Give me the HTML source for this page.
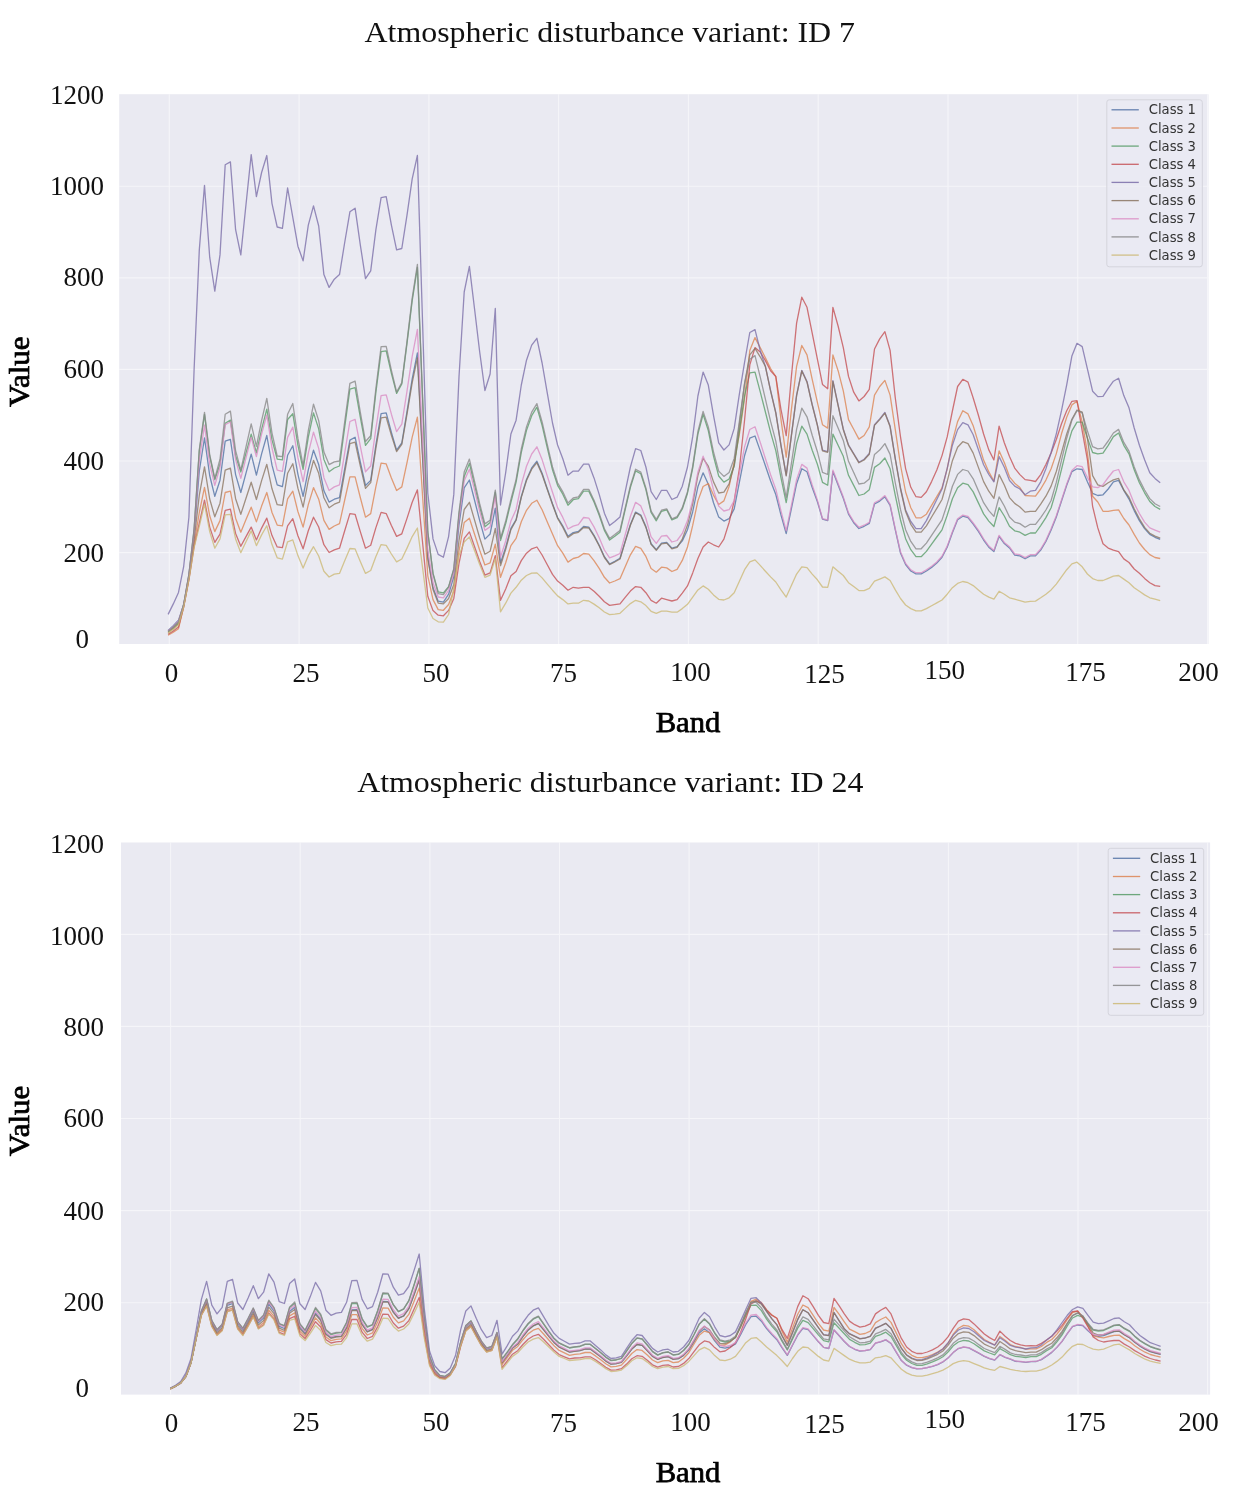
<!DOCTYPE html>
<html><head><meta charset="utf-8"><title>Atmospheric disturbance variants</title>
<style>
html,body{margin:0;padding:0;background:#fff;}
svg{display:block;}
.ti{font-family:"Liberation Serif",serif;font-size:30px;fill:#111;}
.tk{font-family:"Liberation Serif",serif;font-size:27px;fill:#111;}
.ax{font-family:"Liberation Serif",serif;font-size:30px;font-weight:normal;fill:#000;stroke:#000;stroke-width:0.75px;}
.lg{font-family:"DejaVu Sans","Liberation Sans",sans-serif;font-size:13.2px;fill:#333;}
</style></head><body>
<svg width="1249" height="1500" viewBox="0 0 1249 1500">
<rect width="1249" height="1500" fill="#fff"/>
<rect x="119.2" y="94.2" width="1089.3" height="549.8" fill="#eaeaf2"/>
<path d="M169.3 94.2V644.0M299.1 94.2V644.0M428.9 94.2V644.0M558.6 94.2V644.0M688.4 94.2V644.0M818.2 94.2V644.0M948.0 94.2V644.0M1077.7 94.2V644.0M1207.5 94.2V644.0M119.2 552.6H1208.5M119.2 461.0H1208.5M119.2 369.4H1208.5M119.2 277.8H1208.5M119.2 186.2H1208.5" stroke="#fff" stroke-width="1.15" stroke-opacity="0.5" fill="none"/>
<polyline points="168.1,630.4 173.3,625.7 178.5,620.1 183.7,605.0 188.9,576.0 194.1,534.3 199.3,471.0 204.5,438.0 209.7,475.5 214.8,496.3 220.0,480.2 225.2,441.2 230.4,439.3 235.6,474.6 240.8,492.5 246.0,473.2 251.2,454.1 256.4,475.2 261.6,453.9 266.8,435.5 272.0,465.2 277.2,484.8 282.4,486.7 287.6,455.3 292.8,445.7 297.9,474.1 303.1,496.3 308.3,469.8 313.5,450.2 318.7,464.5 323.9,490.8 329.1,502.1 334.3,499.2 339.5,497.7 344.7,468.6 349.9,440.1 355.1,437.2 360.3,462.0 365.5,485.5 370.7,480.4 375.9,444.8 381.1,413.6 386.2,412.9 391.4,432.4 396.6,450.2 401.8,443.0 407.0,411.6 412.2,378.8 417.4,353.0 422.6,454.6 427.8,556.9 433.0,587.8 438.2,601.2 443.4,602.1 448.6,594.2 453.8,576.5 459.0,524.8 464.2,487.9 469.4,480.0 474.5,500.0 479.7,520.6 484.9,539.1 490.1,534.0 495.3,508.1 500.5,562.9 505.7,547.2 510.9,528.3 516.1,519.6 521.3,496.5 526.5,479.4 531.7,467.9 536.9,461.2 542.1,473.3 547.3,488.7 552.5,503.8 557.6,517.5 562.8,526.0 568.0,536.2 573.2,532.6 578.4,531.4 583.6,526.5 588.8,527.1 594.0,535.3 599.2,545.3 604.4,556.7 609.6,564.0 614.8,561.3 620.0,558.2 625.2,541.2 630.4,524.5 635.6,512.1 640.8,515.0 645.9,526.6 651.1,543.7 656.3,549.6 661.5,543.1 666.7,542.4 671.9,548.2 677.1,546.7 682.3,540.9 687.5,529.8 692.7,511.7 697.9,486.8 703.1,472.8 708.3,484.2 713.5,502.7 718.7,517.1 723.9,521.1 729.1,518.7 734.2,508.9 739.4,482.2 744.6,455.5 749.8,438.2 755.0,436.0 760.2,450.6 765.4,465.8 770.6,481.0 775.8,494.5 781.0,515.0 786.2,533.7 791.4,508.7 796.6,483.7 801.8,468.7 807.0,471.7 812.2,487.5 817.4,501.7 822.5,519.1 827.7,520.6 832.9,471.6 838.1,484.9 843.3,498.2 848.5,514.1 853.7,522.7 858.9,528.5 864.1,526.3 869.3,523.4 874.5,504.0 879.7,501.1 884.9,496.8 890.1,505.4 895.3,529.9 900.5,553.0 905.6,564.5 910.8,571.0 916.0,573.9 921.2,573.9 926.4,571.0 931.6,567.4 936.8,563.1 942.0,557.3 947.2,547.2 952.4,532.8 957.6,519.8 962.8,516.2 968.0,517.7 973.2,524.2 978.4,531.4 983.6,540.0 988.8,547.2 993.9,551.5 999.1,536.4 1004.3,543.6 1009.5,547.9 1014.7,555.1 1019.9,555.9 1025.1,558.8 1030.3,555.9 1035.5,555.9 1040.7,550.1 1045.9,541.5 1051.1,529.9 1056.3,517.0 1061.5,501.1 1066.7,485.3 1071.9,471.6 1077.0,468.8 1082.2,469.5 1087.4,481.8 1092.6,493.3 1097.8,495.5 1103.0,494.8 1108.2,489.0 1113.4,481.8 1118.6,480.4 1123.8,490.4 1129.0,499.1 1134.2,510.6 1139.4,520.7 1144.6,528.6 1149.8,534.4 1155.0,537.3 1160.2,539.4" fill="none" stroke="#4F6FA3" stroke-width="1.3" stroke-opacity="0.78" stroke-linejoin="round"/>
<polyline points="168.1,635.3 173.3,632.3 178.5,628.7 183.7,606.5 188.9,578.9 194.1,544.1 199.3,512.5 204.5,487.4 209.7,515.8 214.8,531.6 220.0,520.6 225.2,492.5 230.4,491.2 235.6,518.2 240.8,532.2 246.0,519.6 251.2,507.2 256.4,521.9 261.6,506.1 266.8,492.5 272.0,512.5 277.2,525.1 282.4,525.8 287.6,498.9 292.8,491.2 297.9,511.5 303.1,527.1 308.3,504.6 313.5,487.6 318.7,499.2 323.9,520.4 329.1,529.4 334.3,526.0 339.5,523.7 344.7,500.0 349.9,476.8 355.1,476.8 360.3,497.5 365.5,517.2 370.7,513.6 375.9,486.6 381.1,463.1 386.2,463.9 391.4,477.9 396.6,490.5 401.8,486.9 407.0,462.6 412.2,437.1 417.4,417.2 422.6,496.2 427.8,575.8 433.0,599.6 438.2,609.6 443.4,610.3 448.6,604.5 453.8,591.1 459.0,551.0 464.2,522.5 469.4,518.2 474.5,534.0 479.7,550.3 484.9,565.0 490.1,562.9 495.3,544.1 500.5,577.3 505.7,562.8 510.9,545.6 516.1,538.4 521.3,521.8 526.5,510.3 531.7,503.3 536.9,500.2 542.1,509.8 547.3,522.0 552.5,534.0 557.6,545.7 562.8,553.2 568.0,562.1 573.2,558.5 578.4,557.1 583.6,553.5 588.8,554.2 594.0,560.6 599.2,568.4 604.4,577.3 609.6,583.0 614.8,581.0 620.0,578.7 625.2,566.7 630.4,554.8 635.6,546.3 640.8,548.4 645.9,556.4 651.1,568.5 656.3,572.2 661.5,567.2 666.7,567.9 671.9,571.5 677.1,569.3 682.3,560.4 687.5,547.0 692.7,525.4 697.9,500.9 703.1,486.5 708.3,483.6 713.5,495.1 718.7,504.5 723.9,500.9 729.1,486.5 734.2,462.0 739.4,434.1 744.6,398.1 749.8,350.5 755.0,337.6 760.2,347.6 765.4,357.7 770.6,368.5 775.8,376.5 781.0,419.7 786.2,457.2 791.4,409.6 796.6,366.4 801.8,345.5 807.0,354.9 812.2,379.4 817.4,402.4 822.5,424.7 827.7,428.1 832.9,354.9 838.1,370.7 843.3,390.9 848.5,419.6 853.7,429.3 858.9,439.1 864.1,435.5 869.3,426.8 874.5,395.1 879.7,386.5 884.9,380.4 890.1,395.1 895.3,429.7 900.5,465.0 905.6,492.0 910.8,507.7 916.0,517.8 921.2,517.8 926.4,514.2 931.6,505.4 936.8,496.7 942.0,487.9 947.2,468.8 952.4,441.3 957.6,421.6 962.8,410.7 968.0,413.9 973.2,425.7 978.4,442.9 983.6,460.1 988.8,471.9 993.9,481.1 999.1,450.8 1004.3,462.5 1009.5,476.8 1014.7,483.2 1019.9,487.6 1025.1,495.5 1030.3,495.9 1035.5,496.2 1040.7,489.0 1045.9,480.1 1051.1,468.8 1056.3,453.6 1061.5,433.8 1066.7,417.2 1071.9,404.9 1077.0,401.3 1082.2,422.2 1087.4,452.5 1092.6,496.2 1097.8,502.0 1103.0,511.3 1108.2,511.3 1113.4,510.3 1118.6,509.9 1123.8,518.5 1129.0,525.0 1134.2,534.4 1139.4,543.0 1144.6,549.5 1149.8,554.6 1155.0,557.5 1160.2,558.5" fill="none" stroke="#DD8452" stroke-width="1.3" stroke-opacity="0.78" stroke-linejoin="round"/>
<polyline points="168.1,631.8 173.3,627.7 178.5,622.7 183.7,604.3 188.9,574.5 194.1,529.5 199.3,451.1 204.5,414.3 209.7,456.2 214.8,479.7 220.0,464.0 225.2,423.3 230.4,420.1 235.6,455.7 240.8,472.0 246.0,453.0 251.2,434.2 256.4,452.8 261.6,429.3 266.8,409.2 272.0,439.9 277.2,459.2 282.4,459.8 287.6,419.5 292.8,413.7 297.9,445.1 303.1,469.4 308.3,437.1 313.5,412.9 318.7,428.9 323.9,459.4 329.1,471.8 334.3,468.0 339.5,466.0 344.7,427.2 349.9,389.1 355.1,387.6 360.3,417.2 365.5,445.3 370.7,438.6 375.9,392.3 381.1,351.6 386.2,350.9 391.4,373.3 396.6,393.4 401.8,384.0 407.0,343.4 412.2,300.7 417.4,267.3 422.6,399.2 427.8,532.1 433.0,573.2 438.2,591.9 443.4,592.9 448.6,586.6 453.8,569.5 459.0,514.7 464.2,476.4 469.4,463.4 474.5,484.9 479.7,507.1 484.9,526.8 490.1,522.5 495.3,492.2 500.5,540.5 505.7,523.5 510.9,502.3 516.1,482.1 521.3,452.3 526.5,430.4 531.7,415.7 536.9,407.2 542.1,425.4 547.3,447.8 552.5,469.9 557.6,485.3 562.8,494.2 568.0,505.2 573.2,499.7 578.4,498.7 583.6,491.1 588.8,491.1 594.0,501.9 599.2,515.2 604.4,530.4 609.6,540.1 614.8,536.3 620.0,532.2 625.2,509.6 630.4,487.4 635.6,470.9 640.8,473.8 645.9,489.6 651.1,512.5 656.3,520.8 661.5,511.3 666.7,509.8 671.9,519.9 677.1,517.7 682.3,509.0 687.5,493.2 692.7,468.1 697.9,434.1 703.1,414.4 708.3,430.5 713.5,456.0 718.7,476.0 723.9,482.1 729.1,479.0 734.2,466.1 739.4,430.9 744.6,395.7 749.8,372.9 755.0,372.1 760.2,391.6 765.4,412.0 770.6,432.4 775.8,450.6 781.0,477.8 786.2,502.7 791.4,473.0 796.6,443.4 801.8,426.2 807.0,434.1 812.2,450.2 817.4,464.3 822.5,482.4 827.7,485.3 832.9,434.1 838.1,445.2 843.3,456.3 848.5,475.3 853.7,485.4 858.9,495.5 864.1,494.0 869.3,489.7 874.5,467.4 879.7,463.8 884.9,458.0 890.1,468.8 895.3,495.4 900.5,520.0 905.6,538.7 910.8,549.7 916.0,556.7 921.2,556.7 926.4,551.4 931.6,544.2 936.8,537.0 942.0,529.9 947.2,515.2 952.4,498.7 957.6,487.8 962.8,483.2 968.0,484.7 973.2,491.9 978.4,502.9 983.6,513.9 988.8,521.1 993.9,526.5 999.1,507.7 1004.3,516.0 1009.5,526.2 1014.7,530.8 1019.9,532.2 1025.1,535.4 1030.3,533.0 1035.5,533.0 1040.7,525.6 1045.9,517.6 1051.1,507.7 1056.3,490.4 1061.5,469.3 1066.7,448.2 1071.9,430.9 1077.0,422.2 1082.2,422.2 1087.4,438.1 1092.6,452.5 1097.8,453.9 1103.0,453.2 1108.2,445.3 1113.4,436.6 1118.6,433.0 1123.8,445.3 1129.0,453.9 1134.2,469.8 1139.4,482.8 1144.6,492.8 1149.8,501.5 1155.0,506.5 1160.2,509.4" fill="none" stroke="#579B66" stroke-width="1.3" stroke-opacity="0.78" stroke-linejoin="round"/>
<polyline points="168.1,634.3 173.3,631.0 178.5,627.0 183.7,606.9 188.9,579.7 194.1,546.7 199.3,523.2 204.5,500.2 209.7,527.1 214.8,542.4 220.0,534.1 225.2,510.4 230.4,509.1 235.6,533.4 240.8,546.3 246.0,536.6 251.2,527.1 256.4,539.9 261.6,528.1 266.8,518.1 272.0,535.6 277.2,546.9 282.4,547.6 287.6,525.8 292.8,518.7 297.9,535.7 303.1,548.8 308.3,530.8 313.5,517.2 318.7,527.0 323.9,544.7 329.1,552.5 334.3,549.9 339.5,548.2 344.7,530.7 349.9,513.6 355.1,514.3 360.3,531.6 365.5,548.2 370.7,545.3 375.9,527.6 381.1,512.4 386.2,513.6 391.4,525.5 396.6,536.4 401.8,533.8 407.0,518.4 412.2,502.2 417.4,489.8 422.6,542.8 427.8,596.3 433.0,610.6 438.2,615.2 443.4,615.8 448.6,610.4 453.8,598.4 459.0,563.3 464.2,538.4 469.4,531.9 474.5,546.5 479.7,561.5 484.9,575.1 490.1,572.9 495.3,555.6 500.5,600.3 505.7,589.0 510.9,575.8 516.1,571.5 521.3,560.6 526.5,553.2 531.7,548.8 536.9,547.0 542.1,555.0 547.3,564.8 552.5,574.4 557.6,581.1 562.8,585.2 568.0,590.2 573.2,587.3 578.4,588.1 583.6,587.3 588.8,587.3 594.0,591.3 599.2,596.2 604.4,601.8 609.6,605.4 614.8,604.7 620.0,603.9 625.2,597.4 630.4,591.1 635.6,586.6 640.8,587.3 645.9,592.7 651.1,600.4 656.3,603.2 661.5,598.2 666.7,599.6 671.9,601.0 677.1,599.6 682.3,593.1 687.5,585.9 692.7,572.9 697.9,558.5 703.1,547.0 708.3,542.0 713.5,544.8 718.7,547.0 723.9,539.1 729.1,522.5 734.2,500.9 739.4,468.7 744.6,419.7 749.8,364.9 755.0,347.6 760.2,352.0 765.4,360.6 770.6,370.7 775.8,376.5 781.0,409.6 786.2,435.6 791.4,376.5 796.6,323.1 801.8,297.2 807.0,307.3 812.2,333.2 817.4,359.2 822.5,384.4 827.7,388.7 832.9,307.3 838.1,326.0 843.3,347.6 848.5,376.4 853.7,392.2 858.9,400.9 864.1,396.5 869.3,389.3 874.5,349.0 879.7,338.9 884.9,331.7 890.1,350.4 895.3,398.0 900.5,436.9 905.6,468.6 910.8,487.3 916.0,496.7 921.2,497.4 926.4,491.7 931.6,481.6 936.8,470.0 942.0,455.6 947.2,436.9 952.4,411.0 957.6,386.5 962.8,379.3 968.0,382.1 973.2,398.0 978.4,415.3 983.6,434.0 988.8,449.9 993.9,460.0 999.1,426.1 1004.3,442.7 1009.5,456.6 1014.7,468.1 1019.9,474.6 1025.1,479.6 1030.3,480.4 1035.5,481.5 1040.7,474.6 1045.9,464.5 1051.1,453.0 1056.3,439.5 1061.5,423.7 1066.7,410.7 1071.9,401.3 1077.0,400.6 1082.2,430.9 1087.4,459.7 1092.6,506.3 1097.8,527.9 1103.0,543.8 1108.2,548.1 1113.4,550.2 1118.6,551.7 1123.8,558.9 1129.0,562.5 1134.2,569.0 1139.4,573.3 1144.6,578.4 1149.8,582.7 1155.0,585.6 1160.2,586.3" fill="none" stroke="#C44E52" stroke-width="1.3" stroke-opacity="0.78" stroke-linejoin="round"/>
<polyline points="168.1,614.4 173.3,603.9 178.5,592.4 183.7,566.3 188.9,517.3 194.1,369.4 199.3,249.9 204.5,185.3 209.7,257.2 214.8,291.1 220.0,254.9 225.2,164.7 230.4,161.9 235.6,229.7 240.8,254.9 246.0,204.5 251.2,154.6 256.4,196.7 261.6,172.5 266.8,155.5 272.0,203.6 277.2,227.0 282.4,228.3 287.6,188.0 292.8,217.3 297.9,246.2 303.1,260.9 308.3,225.1 313.5,205.9 318.7,226.0 323.9,274.6 329.1,287.4 334.3,279.2 339.5,274.6 344.7,242.5 349.9,211.8 355.1,208.2 360.3,244.8 365.5,278.7 370.7,270.9 375.9,229.7 381.1,197.7 386.2,196.7 391.4,225.1 396.6,249.9 401.8,248.5 407.0,215.1 412.2,178.9 417.4,155.5 422.6,323.6 427.8,493.1 433.0,538.9 438.2,554.4 443.4,557.2 448.6,536.6 453.8,494.4 459.0,376.7 464.2,292.0 469.4,266.4 474.5,308.5 479.7,352.0 484.9,390.5 490.1,374.0 495.3,308.5 500.5,505.0 505.7,472.5 510.9,434.0 516.1,420.2 521.3,385.0 526.5,360.2 531.7,345.1 536.9,338.3 542.1,363.0 547.3,393.2 552.5,423.0 557.6,445.0 562.8,458.7 568.0,475.2 573.2,471.1 578.4,471.1 583.6,464.2 588.8,464.2 594.0,477.9 599.2,494.4 604.4,513.2 609.6,525.6 614.8,521.5 620.0,516.9 625.2,491.7 630.4,467.0 635.6,448.6 640.8,450.5 645.9,467.0 651.1,491.7 656.3,499.5 661.5,490.3 666.7,490.3 671.9,499.5 677.1,497.2 682.3,486.2 687.5,467.0 692.7,436.7 697.9,396.0 703.1,372.1 708.3,385.1 713.5,415.4 718.7,442.8 723.9,450.0 729.1,444.9 734.2,428.4 739.4,393.8 744.6,362.1 749.8,332.5 755.0,329.6 760.2,350.5 765.4,366.6 770.6,390.4 775.8,412.4 781.0,445.2 786.2,475.2 791.4,435.1 796.6,395.1 801.8,370.3 807.0,381.5 812.2,404.4 817.4,424.8 822.5,450.1 827.7,451.6 832.9,380.7 838.1,404.9 843.3,429.0 848.5,444.9 853.7,453.5 858.9,462.2 864.1,459.3 869.3,453.5 874.5,424.7 879.7,418.9 884.9,412.4 890.1,426.1 895.3,458.5 900.5,488.0 905.6,509.9 910.8,521.5 916.0,528.6 921.2,528.6 926.4,520.6 931.6,510.1 936.8,499.5 942.0,489.0 947.2,468.3 952.4,445.2 957.6,429.6 962.8,422.6 968.0,424.9 973.2,434.7 978.4,449.7 983.6,464.7 988.8,474.5 993.9,481.8 999.1,456.6 1004.3,467.3 1009.5,480.5 1014.7,486.1 1019.9,489.0 1025.1,494.8 1030.3,491.2 1035.5,490.4 1040.7,481.8 1045.9,468.8 1051.1,452.5 1056.3,433.8 1061.5,410.7 1066.7,384.8 1071.9,355.9 1077.0,343.3 1082.2,346.6 1087.4,368.9 1092.6,391.2 1097.8,396.6 1103.0,396.3 1108.2,388.4 1113.4,381.2 1118.6,378.3 1123.8,395.6 1129.0,407.8 1134.2,428.0 1139.4,445.3 1144.6,459.7 1149.8,472.7 1155.0,478.4 1160.2,482.8" fill="none" stroke="#7A6DA8" stroke-width="1.3" stroke-opacity="0.78" stroke-linejoin="round"/>
<polyline points="168.1,632.5 173.3,628.5 178.5,623.8 183.7,605.9 188.9,577.7 194.1,540.0 199.3,495.2 204.5,466.9 209.7,499.0 214.8,516.8 220.0,503.2 225.2,470.1 230.4,468.1 235.6,498.7 240.8,514.3 246.0,498.2 251.2,482.2 256.4,499.5 261.6,480.6 266.8,464.3 272.0,488.8 277.2,504.7 282.4,505.3 287.6,473.3 292.8,463.7 297.9,488.2 303.1,507.2 308.3,480.5 313.5,460.3 318.7,473.3 323.9,497.8 329.1,507.8 334.3,504.2 339.5,502.1 344.7,472.6 349.9,443.7 355.1,442.2 360.3,465.9 365.5,488.4 370.7,482.6 375.9,448.1 381.1,417.9 386.2,417.2 391.4,435.3 396.6,451.6 401.8,444.4 407.0,414.2 412.2,382.6 417.4,357.9 422.6,457.9 427.8,558.7 433.0,589.4 438.2,603.1 443.4,603.9 448.6,598.5 453.8,584.5 459.0,540.5 464.2,509.5 469.4,502.3 474.5,519.9 479.7,538.0 484.9,554.2 490.1,551.3 495.3,528.3 500.5,565.7 505.7,549.4 510.9,529.7 516.1,520.3 521.3,497.4 526.5,480.6 531.7,469.2 536.9,462.7 542.1,474.5 547.3,489.6 552.5,504.5 557.6,518.4 562.8,527.2 568.0,537.6 573.2,533.7 578.4,532.3 583.6,527.5 588.8,528.0 594.0,536.1 599.2,546.0 604.4,557.5 609.6,564.7 614.8,562.0 620.0,559.0 625.2,541.9 630.4,525.2 635.6,512.8 640.8,515.7 645.9,527.4 651.1,544.4 656.3,550.3 661.5,543.8 666.7,543.1 671.9,548.9 677.1,547.4 682.3,539.1 687.5,525.1 692.7,503.8 697.9,475.4 703.1,458.4 708.3,466.1 713.5,481.9 718.7,493.0 723.9,492.2 729.1,483.8 734.2,465.4 739.4,424.4 744.6,383.3 749.8,354.9 755.0,348.4 760.2,356.8 765.4,366.4 770.6,391.1 775.8,413.1 781.0,445.9 786.2,475.9 791.4,435.8 796.6,395.7 801.8,371.0 807.0,382.2 812.2,405.1 817.4,425.5 822.5,450.8 827.7,452.3 832.9,381.4 838.1,405.6 843.3,429.7 848.5,445.5 853.7,454.2 858.9,462.8 864.1,460.0 869.3,454.2 874.5,425.4 879.7,419.6 884.9,413.1 890.1,426.8 895.3,459.1 900.5,489.0 905.6,511.6 910.8,524.3 916.0,532.2 921.2,532.2 926.4,525.8 931.6,517.0 936.8,508.3 942.0,499.5 947.2,481.3 952.4,460.7 957.6,447.2 962.8,441.7 968.0,443.6 973.2,453.1 978.4,467.4 983.6,481.6 988.8,491.2 993.9,498.4 999.1,474.6 1004.3,485.0 1009.5,497.6 1014.7,503.4 1019.9,507.0 1025.1,512.1 1030.3,511.3 1035.5,511.3 1040.7,504.2 1045.9,496.2 1051.1,486.1 1056.3,471.5 1061.5,452.7 1066.7,434.0 1071.9,419.3 1077.0,410.0 1082.2,412.1 1087.4,438.1 1092.6,475.6 1097.8,484.9 1103.0,486.4 1108.2,482.8 1113.4,479.9 1118.6,478.4 1123.8,490.0 1129.0,497.2 1134.2,508.7 1139.4,518.8 1144.6,527.4 1149.8,533.2 1155.0,536.1 1160.2,538.2" fill="none" stroke="#8A7460" stroke-width="1.3" stroke-opacity="0.78" stroke-linejoin="round"/>
<polyline points="168.1,630.8 173.3,626.4 178.5,621.0 183.7,604.7 188.9,575.2 194.1,531.7 199.3,460.3 204.5,425.2 209.7,464.2 214.8,485.4 220.0,467.3 225.2,424.6 230.4,422.0 235.6,459.7 240.8,478.4 246.0,457.8 251.2,437.4 256.4,456.6 261.6,434.2 266.8,415.0 272.0,448.0 277.2,470.1 282.4,471.3 287.6,437.4 292.8,427.1 297.9,457.7 303.1,481.6 308.3,453.1 313.5,432.2 318.7,448.4 323.9,477.7 329.1,490.5 334.3,486.9 339.5,484.8 344.7,452.8 349.9,421.5 355.1,419.3 360.3,446.2 365.5,471.8 370.7,466.0 375.9,428.4 381.1,395.6 386.2,394.8 391.4,414.2 396.6,431.6 401.8,424.2 407.0,391.1 412.2,356.3 417.4,329.3 422.6,439.0 427.8,549.6 433.0,582.8 438.2,597.0 443.4,597.9 448.6,590.5 453.8,572.7 459.0,518.8 464.2,480.7 469.4,469.2 474.5,489.9 479.7,511.3 484.9,530.4 490.1,526.8 495.3,495.8 500.5,557.1 505.7,540.9 510.9,521.1 516.1,509.5 521.3,484.6 526.5,466.3 531.7,454.0 536.9,446.8 542.1,459.6 547.3,476.1 552.5,492.2 557.6,507.6 562.8,517.4 568.0,529.0 573.2,526.1 578.4,524.7 583.6,517.5 588.8,518.2 594.0,526.9 599.2,537.7 604.4,550.0 609.6,557.8 614.8,555.8 620.0,553.5 625.2,534.7 630.4,516.2 635.6,502.3 640.8,505.9 645.9,518.5 651.1,536.9 656.3,543.4 661.5,536.2 666.7,535.5 671.9,542.0 677.1,540.5 682.3,533.4 687.5,520.6 692.7,500.1 697.9,472.2 703.1,456.2 708.3,469.2 713.5,489.9 718.7,506.1 723.9,511.0 729.1,509.7 734.2,500.6 739.4,473.6 744.6,446.6 749.8,429.5 755.0,426.7 760.2,442.2 765.4,458.5 770.6,474.7 775.8,489.2 781.0,510.9 786.2,530.8 791.4,505.3 796.6,479.7 801.8,464.4 807.0,468.1 812.2,484.9 817.4,500.1 822.5,518.6 827.7,520.0 832.9,470.1 838.1,483.6 843.3,497.1 848.5,512.9 853.7,521.6 858.9,527.3 864.1,525.2 869.3,522.3 874.5,502.8 879.7,500.0 884.9,495.6 890.1,504.3 895.3,528.8 900.5,551.8 905.6,563.4 910.8,569.8 916.0,572.7 921.2,572.7 926.4,569.8 931.6,566.2 936.8,561.9 942.0,556.2 947.2,546.1 952.4,531.7 957.6,518.7 962.8,515.1 968.0,516.5 973.2,523.0 978.4,530.2 983.6,538.9 988.8,546.1 993.9,550.4 999.1,535.3 1004.3,542.5 1009.5,546.8 1014.7,554.0 1019.9,554.7 1025.1,557.6 1030.3,554.7 1035.5,554.7 1040.7,549.0 1045.9,540.3 1051.1,528.8 1056.3,515.8 1061.5,500.0 1066.7,484.1 1071.9,470.4 1077.0,465.7 1082.2,466.7 1087.4,477.5 1092.6,486.8 1097.8,487.6 1103.0,484.7 1108.2,477.5 1113.4,471.0 1118.6,469.5 1123.8,481.8 1129.0,490.4 1134.2,503.4 1139.4,513.5 1144.6,522.1 1149.8,527.9 1155.0,530.1 1160.2,532.2" fill="none" stroke="#DA8BC3" stroke-width="1.3" stroke-opacity="0.78" stroke-linejoin="round"/>
<polyline points="168.1,631.2 173.3,626.9 178.5,621.6 183.7,604.3 188.9,574.4 194.1,529.1 199.3,449.5 204.5,412.4 209.7,454.7 214.8,478.4 220.0,459.2 225.2,414.3 230.4,411.1 235.6,450.6 240.8,470.1 246.0,446.9 251.2,423.9 256.4,446.4 261.6,420.6 266.8,398.3 272.0,433.1 277.2,456.0 282.4,456.6 287.6,414.3 292.8,403.5 297.9,438.2 303.1,465.6 308.3,430.7 313.5,404.2 318.7,420.6 323.9,452.0 329.1,464.6 334.3,461.9 339.5,461.0 344.7,421.8 349.9,383.3 355.1,381.1 360.3,412.1 365.5,441.5 370.7,435.8 375.9,388.3 381.1,346.6 386.2,346.3 391.4,370.3 396.6,392.0 401.8,382.6 407.0,341.4 412.2,298.2 417.4,264.3 422.6,397.5 427.8,531.7 433.0,574.0 438.2,593.7 443.4,594.7 448.6,587.1 453.8,568.6 459.0,512.0 464.2,472.1 469.4,459.1 474.5,481.1 479.7,503.7 484.9,523.9 490.1,520.3 495.3,490.1 500.5,538.4 505.7,521.0 510.9,499.4 516.1,479.3 521.3,449.0 526.5,426.9 531.7,412.1 536.9,403.6 542.1,422.0 547.3,444.7 552.5,467.0 557.6,482.8 562.8,491.8 568.0,503.0 573.2,498.0 578.4,496.8 583.6,489.4 588.8,489.4 594.0,500.2 599.2,513.5 604.4,528.7 609.6,538.4 614.8,534.6 620.0,530.4 625.2,507.8 630.4,485.6 635.6,469.2 640.8,472.1 645.9,487.9 651.1,511.1 656.3,519.3 661.5,510.2 666.7,508.8 671.9,518.9 677.1,516.7 682.3,507.7 687.5,491.7 692.7,466.1 697.9,431.5 703.1,411.5 708.3,426.9 713.5,451.8 718.7,471.1 723.9,476.4 729.1,472.5 734.2,458.4 739.4,421.0 744.6,383.6 749.8,359.2 755.0,355.6 760.2,376.9 765.4,399.1 770.6,421.4 775.8,441.2 781.0,470.6 786.2,497.7 791.4,463.4 796.6,429.1 801.8,408.2 807.0,416.8 812.2,435.3 817.4,451.7 822.5,472.3 827.7,474.5 832.9,415.7 838.1,428.1 843.3,440.4 848.5,461.3 853.7,472.6 858.9,484.0 864.1,483.2 869.3,478.9 874.5,454.4 879.7,450.1 884.9,443.6 890.1,454.4 895.3,483.0 900.5,509.5 905.6,529.7 910.8,541.4 916.0,548.8 921.2,548.8 926.4,543.1 931.6,535.4 936.8,527.6 942.0,519.9 947.2,504.1 952.4,486.2 957.6,474.4 962.8,469.5 968.0,471.0 973.2,478.8 978.4,490.8 983.6,502.7 988.8,510.6 993.9,516.4 999.1,496.9 1004.3,506.0 1009.5,517.0 1014.7,522.1 1019.9,523.6 1025.1,527.2 1030.3,524.3 1035.5,524.3 1040.7,517.6 1045.9,510.0 1051.1,500.5 1056.3,482.4 1061.5,460.3 1066.7,438.2 1071.9,420.1 1077.0,410.7 1082.2,412.9 1087.4,430.9 1092.6,446.7 1097.8,448.9 1103.0,448.2 1108.2,441.0 1113.4,433.0 1118.6,429.4 1123.8,442.4 1129.0,451.1 1134.2,466.9 1139.4,479.9 1144.6,490.0 1149.8,498.6 1155.0,503.7 1160.2,506.5" fill="none" stroke="#868686" stroke-width="1.3" stroke-opacity="0.78" stroke-linejoin="round"/>
<polyline points="168.1,633.1 173.3,629.4 178.5,624.8 183.7,607.0 188.9,579.9 194.1,547.5 199.3,526.4 204.5,504.0 209.7,531.6 214.8,548.2 220.0,538.9 225.2,514.9 230.4,514.3 235.6,538.9 240.8,552.7 246.0,541.7 251.2,530.9 256.4,545.6 261.6,534.9 266.8,525.8 272.0,544.6 277.2,557.8 282.4,559.1 287.6,541.8 292.8,539.9 297.9,555.6 303.1,568.1 308.3,555.7 313.5,546.7 318.7,556.0 323.9,571.2 329.1,577.0 334.3,574.1 339.5,573.4 344.7,560.8 349.9,548.5 355.1,548.9 360.3,561.4 365.5,573.4 370.7,570.5 375.9,556.6 381.1,544.6 386.2,545.3 391.4,554.0 396.6,561.9 401.8,559.0 407.0,548.1 412.2,536.6 417.4,528.0 422.6,567.8 427.8,608.0 433.0,618.5 438.2,621.8 443.4,622.2 448.6,614.5 453.8,588.5 459.0,555.4 464.2,542.0 469.4,536.9 474.5,550.6 479.7,564.6 484.9,577.3 490.1,575.1 495.3,558.5 500.5,611.8 505.7,603.2 510.9,593.1 516.1,587.3 521.3,580.2 526.5,575.5 531.7,573.2 536.9,572.9 542.1,577.9 547.3,584.1 552.5,590.2 557.6,595.9 562.8,599.6 568.0,603.9 573.2,603.2 578.4,603.2 583.6,600.3 588.8,601.0 594.0,604.1 599.2,607.8 604.4,612.0 609.6,614.7 614.8,614.1 620.0,613.3 625.2,608.4 630.4,603.6 635.6,600.3 640.8,601.8 645.9,605.6 651.1,611.3 656.3,613.3 661.5,611.1 666.7,611.1 671.9,612.2 677.1,612.2 682.3,608.6 687.5,604.3 692.7,597.1 697.9,589.9 703.1,585.9 708.3,589.2 713.5,594.9 718.7,599.3 723.9,600.0 729.1,597.8 734.2,592.8 739.4,581.3 744.6,569.7 749.8,561.8 755.0,559.9 760.2,565.4 765.4,571.2 770.6,576.9 775.8,582.0 781.0,589.9 786.2,597.1 791.4,585.6 796.6,574.1 801.8,566.8 807.0,567.6 812.2,574.1 817.4,579.8 822.5,587.0 827.7,587.3 832.9,566.8 838.1,571.2 843.3,575.5 848.5,582.7 853.7,586.6 858.9,590.6 864.1,590.6 869.3,588.4 874.5,581.2 879.7,579.1 884.9,576.9 890.1,580.5 895.3,589.9 900.5,598.5 905.6,605.0 910.8,608.6 916.0,610.8 921.2,610.8 926.4,608.6 931.6,605.7 936.8,602.9 942.0,600.0 947.2,594.2 952.4,587.7 957.6,583.4 962.8,581.5 968.0,582.7 973.2,585.6 978.4,589.9 983.6,594.2 988.8,597.1 993.9,599.2 999.1,591.3 1004.3,594.2 1009.5,597.8 1014.7,599.2 1019.9,600.7 1025.1,602.1 1030.3,601.4 1035.5,601.1 1040.7,597.8 1045.9,594.2 1051.1,589.9 1056.3,584.1 1061.5,576.9 1066.7,569.7 1071.9,563.9 1077.0,562.2 1082.2,566.8 1087.4,574.0 1092.6,578.6 1097.8,580.5 1103.0,580.5 1108.2,578.4 1113.4,576.2 1118.6,575.5 1123.8,579.1 1129.0,582.7 1134.2,587.7 1139.4,591.3 1144.6,594.9 1149.8,597.8 1155.0,599.2 1160.2,600.7" fill="none" stroke="#CCB974" stroke-width="1.3" stroke-opacity="0.78" stroke-linejoin="round"/>
<rect x="1106.8" y="99.8" width="95.5" height="167" rx="2.5" fill="#eaeaf2" fill-opacity="0.8" stroke="#d4d4dc" stroke-width="1"/>
<line x1="1111.5" x2="1138.8" y1="109.8" y2="109.8" stroke="#4F6FA3" stroke-width="1.3" stroke-opacity="0.85"/>
<text x="1148.7" y="114.4" class="lg">Class 1</text>
<line x1="1111.5" x2="1138.8" y1="128.0" y2="128.0" stroke="#DD8452" stroke-width="1.3" stroke-opacity="0.85"/>
<text x="1148.7" y="132.6" class="lg">Class 2</text>
<line x1="1111.5" x2="1138.8" y1="146.1" y2="146.1" stroke="#579B66" stroke-width="1.3" stroke-opacity="0.85"/>
<text x="1148.7" y="150.7" class="lg">Class 3</text>
<line x1="1111.5" x2="1138.8" y1="164.3" y2="164.3" stroke="#C44E52" stroke-width="1.3" stroke-opacity="0.85"/>
<text x="1148.7" y="168.9" class="lg">Class 4</text>
<line x1="1111.5" x2="1138.8" y1="182.4" y2="182.4" stroke="#7A6DA8" stroke-width="1.3" stroke-opacity="0.85"/>
<text x="1148.7" y="187.0" class="lg">Class 5</text>
<line x1="1111.5" x2="1138.8" y1="200.6" y2="200.6" stroke="#8A7460" stroke-width="1.3" stroke-opacity="0.85"/>
<text x="1148.7" y="205.2" class="lg">Class 6</text>
<line x1="1111.5" x2="1138.8" y1="218.8" y2="218.8" stroke="#DA8BC3" stroke-width="1.3" stroke-opacity="0.85"/>
<text x="1148.7" y="223.4" class="lg">Class 7</text>
<line x1="1111.5" x2="1138.8" y1="236.9" y2="236.9" stroke="#868686" stroke-width="1.3" stroke-opacity="0.85"/>
<text x="1148.7" y="241.5" class="lg">Class 8</text>
<line x1="1111.5" x2="1138.8" y1="255.1" y2="255.1" stroke="#CCB974" stroke-width="1.3" stroke-opacity="0.85"/>
<text x="1148.7" y="259.7" class="lg">Class 9</text>
<rect x="121.0" y="842.5" width="1089.1" height="552.1" fill="#eaeaf2"/>
<path d="M170.6 842.5V1394.6M300.2 842.5V1394.6M429.9 842.5V1394.6M559.5 842.5V1394.6M689.1 842.5V1394.6M818.7 842.5V1394.6M948.4 842.5V1394.6M1078.0 842.5V1394.6M1207.6 842.5V1394.6M121.0 1302.7H1210.1M121.0 1210.6H1210.1M121.0 1118.5H1210.1M121.0 1026.4H1210.1M121.0 934.3H1210.1" stroke="#fff" stroke-width="1.15" stroke-opacity="0.5" fill="none"/>
<polyline points="170.3,1388.7 175.5,1386.1 180.7,1382.8 185.9,1376.4 191.0,1362.6 196.2,1337.7 201.4,1312.1 206.6,1300.9 211.8,1322.1 217.0,1331.1 222.2,1325.9 227.3,1305.3 232.5,1303.7 237.7,1323.6 242.9,1330.2 248.1,1320.6 253.3,1310.4 258.4,1322.9 263.6,1318.0 268.8,1304.1 274.0,1311.1 279.2,1326.3 284.4,1328.5 289.6,1311.4 294.7,1307.2 299.9,1327.4 305.1,1333.3 310.3,1323.8 315.5,1313.2 320.7,1319.5 325.9,1333.7 331.0,1337.7 336.2,1336.4 341.4,1336.1 346.6,1327.4 351.8,1310.0 357.0,1309.7 362.1,1324.2 367.3,1331.6 372.5,1329.3 377.7,1317.0 382.9,1301.4 388.1,1301.7 393.3,1311.9 398.4,1318.2 403.6,1315.8 408.8,1308.6 414.0,1294.5 419.2,1279.6 424.4,1325.2 429.6,1359.5 434.7,1371.6 439.9,1376.5 445.1,1377.3 450.3,1373.4 455.5,1364.4 460.7,1342.9 465.8,1326.8 471.0,1322.4 476.2,1332.7 481.4,1342.3 486.6,1349.1 491.8,1347.5 497.0,1333.6 502.1,1362.4 507.3,1355.4 512.5,1348.1 517.7,1344.0 522.9,1336.5 528.1,1330.0 533.2,1325.8 538.4,1323.4 543.6,1329.7 548.8,1336.2 554.0,1342.4 559.2,1347.0 564.4,1349.5 569.5,1352.0 574.7,1351.1 579.9,1350.6 585.1,1349.0 590.3,1349.0 595.5,1352.8 600.7,1356.7 605.8,1361.0 611.0,1364.1 616.2,1363.6 621.4,1362.2 626.6,1355.8 631.8,1349.0 637.0,1344.4 642.1,1345.3 647.3,1350.6 652.5,1356.3 657.7,1359.3 662.9,1357.4 668.1,1356.6 673.2,1359.2 678.4,1358.6 683.6,1355.4 688.8,1350.1 694.0,1341.8 699.2,1333.0 704.4,1328.8 709.5,1332.8 714.7,1340.8 719.9,1347.1 725.1,1348.2 730.3,1346.9 735.5,1343.9 740.6,1334.7 745.8,1324.4 751.0,1316.7 756.2,1316.2 761.4,1321.2 766.6,1328.6 771.8,1334.6 776.9,1339.7 782.1,1347.8 787.3,1355.4 792.5,1345.3 797.7,1335.2 802.9,1328.4 808.1,1329.7 813.2,1335.7 818.4,1341.8 823.6,1347.4 828.8,1348.5 834.0,1330.0 839.2,1335.8 844.3,1341.5 849.5,1346.5 854.7,1349.3 859.9,1351.1 865.1,1350.7 870.3,1349.7 875.5,1343.2 880.6,1341.9 885.8,1339.9 891.0,1343.5 896.2,1352.1 901.4,1360.6 906.6,1365.2 911.8,1367.7 916.9,1368.8 922.1,1368.7 927.3,1367.7 932.5,1366.3 937.7,1364.7 942.9,1362.0 948.0,1358.1 953.2,1352.6 958.4,1348.6 963.6,1347.2 968.8,1347.9 974.0,1350.6 979.2,1353.4 984.3,1356.4 989.5,1358.6 994.7,1360.1 999.9,1354.7 1005.1,1357.3 1010.3,1359.2 1015.5,1361.3 1020.6,1361.7 1025.8,1362.4 1031.0,1361.6 1036.2,1361.5 1041.4,1359.6 1046.6,1356.1 1051.8,1352.4 1056.9,1347.4 1062.1,1341.4 1067.3,1333.7 1072.5,1326.6 1077.7,1325.0 1082.9,1325.7 1088.0,1330.7 1093.2,1335.3 1098.4,1336.3 1103.6,1335.7 1108.8,1333.7 1114.0,1331.6 1119.2,1331.2 1124.3,1334.8 1129.5,1337.8 1134.7,1342.2 1139.9,1346.1 1145.1,1349.1 1150.3,1351.6 1155.5,1353.0 1160.6,1354.4" fill="none" stroke="#4F6FA3" stroke-width="1.3" stroke-opacity="0.78" stroke-linejoin="round"/>
<polyline points="170.3,1388.9 175.5,1386.3 180.7,1383.2 185.9,1376.5 191.0,1362.8 196.2,1338.2 201.4,1314.5 206.6,1304.6 211.8,1325.2 217.0,1334.1 222.2,1329.2 227.3,1309.8 232.5,1308.2 237.7,1327.3 242.9,1333.7 248.1,1324.5 253.3,1314.8 258.4,1326.9 263.6,1322.8 268.8,1310.2 274.0,1316.3 279.2,1330.2 284.4,1332.2 289.6,1315.9 294.7,1312.9 299.9,1331.3 305.1,1336.4 310.3,1327.6 315.5,1317.9 320.7,1323.7 325.9,1337.0 331.0,1340.6 336.2,1339.3 341.4,1338.8 346.6,1330.9 351.8,1314.7 357.0,1314.7 362.1,1328.3 367.3,1335.0 372.5,1332.9 377.7,1321.8 382.9,1307.8 388.1,1308.1 393.3,1317.3 398.4,1322.9 403.6,1320.8 408.8,1314.4 414.0,1301.5 419.2,1288.0 424.4,1330.1 429.6,1361.9 434.7,1373.0 439.9,1377.4 445.1,1378.2 450.3,1374.4 455.5,1365.9 460.7,1345.3 465.8,1329.5 471.0,1325.4 476.2,1335.3 481.4,1344.6 486.6,1351.1 491.8,1349.7 497.0,1336.0 502.1,1364.4 507.3,1357.5 512.5,1350.3 517.7,1346.4 522.9,1339.7 528.1,1333.9 533.2,1330.2 538.4,1328.4 543.6,1334.0 548.8,1340.0 554.0,1345.7 559.2,1350.4 564.4,1352.8 569.5,1355.3 574.7,1354.4 579.9,1353.8 585.1,1352.5 590.3,1352.5 595.5,1355.9 600.7,1359.8 605.8,1363.8 611.0,1366.9 616.2,1366.4 621.4,1365.1 626.6,1359.5 631.8,1353.5 637.0,1349.6 642.1,1350.4 647.3,1355.0 652.5,1360.0 657.7,1362.6 662.9,1360.9 668.1,1360.3 673.2,1362.6 678.4,1362.0 683.6,1358.3 688.8,1352.7 694.0,1344.0 699.2,1335.3 704.4,1331.1 709.5,1332.7 714.7,1339.6 719.9,1345.1 725.1,1345.0 730.3,1341.9 735.5,1336.9 740.6,1327.3 745.8,1315.3 751.0,1301.4 756.2,1299.1 761.4,1302.6 766.6,1309.7 771.8,1314.9 776.9,1318.2 782.1,1331.4 787.3,1342.1 792.5,1328.2 797.7,1314.3 802.9,1305.0 808.1,1307.7 813.2,1315.3 818.4,1323.3 823.6,1330.0 828.8,1331.1 834.0,1307.5 839.2,1314.3 844.3,1321.8 849.5,1329.1 854.7,1331.7 859.9,1334.3 865.1,1333.5 870.3,1331.1 875.5,1322.6 880.6,1319.5 885.8,1317.0 891.0,1322.4 896.2,1332.9 901.4,1343.7 906.6,1351.4 911.8,1355.3 916.9,1357.7 922.1,1357.6 927.3,1356.5 932.5,1354.5 937.7,1352.1 942.9,1348.8 948.0,1343.1 953.2,1334.3 958.4,1328.3 963.6,1325.4 968.8,1326.2 974.0,1329.8 979.2,1334.8 984.3,1339.5 989.5,1342.4 994.7,1345.0 999.9,1336.4 1005.1,1340.3 1010.3,1344.6 1015.5,1346.5 1020.6,1347.5 1025.8,1349.2 1031.0,1348.9 1036.2,1348.9 1041.4,1346.5 1046.6,1342.4 1051.8,1339.5 1056.9,1334.1 1062.1,1327.5 1067.3,1319.5 1072.5,1312.5 1077.7,1311.1 1082.9,1317.2 1088.0,1325.9 1093.2,1335.6 1098.4,1337.2 1103.6,1337.8 1108.8,1336.5 1114.0,1335.3 1119.2,1335.1 1124.3,1338.6 1129.5,1341.6 1134.7,1345.7 1139.9,1349.2 1145.1,1352.2 1150.3,1354.5 1155.5,1355.9 1160.6,1357.1" fill="none" stroke="#DD8452" stroke-width="1.3" stroke-opacity="0.78" stroke-linejoin="round"/>
<polyline points="170.3,1388.7 175.5,1386.1 180.7,1382.9 185.9,1376.3 191.0,1362.5 196.2,1337.5 201.4,1311.0 206.6,1299.0 211.8,1320.6 217.0,1329.7 222.2,1324.6 227.3,1303.8 232.5,1302.0 237.7,1322.1 242.9,1328.4 248.1,1318.9 253.3,1308.8 258.4,1320.9 263.6,1315.8 268.8,1301.2 274.0,1308.3 279.2,1323.9 284.4,1325.9 289.6,1307.6 294.7,1303.3 299.9,1324.4 305.1,1330.6 310.3,1320.1 315.5,1308.5 320.7,1315.2 325.9,1330.3 331.0,1334.6 336.2,1333.1 341.4,1332.7 346.6,1322.8 351.8,1303.5 357.0,1303.3 362.1,1319.1 367.3,1327.1 372.5,1324.8 377.7,1311.0 382.9,1293.5 388.1,1293.8 393.3,1304.9 398.4,1311.7 403.6,1309.1 408.8,1300.9 414.0,1285.2 419.2,1268.5 424.4,1318.6 429.6,1356.3 434.7,1369.8 439.9,1375.5 445.1,1376.4 450.3,1372.7 455.5,1363.6 460.7,1342.0 465.8,1325.8 471.0,1321.1 476.2,1331.5 481.4,1341.3 486.6,1348.2 491.8,1346.6 497.0,1332.5 502.1,1359.2 507.3,1352.3 512.5,1344.9 517.7,1339.2 522.9,1330.9 528.1,1324.0 533.2,1319.2 538.4,1316.6 543.6,1324.1 548.8,1331.6 554.0,1338.6 559.2,1343.2 564.4,1345.6 569.5,1348.0 574.7,1347.0 579.9,1346.5 585.1,1344.4 590.3,1344.4 595.5,1348.6 600.7,1352.7 605.8,1357.3 611.0,1360.6 616.2,1360.0 621.4,1358.5 626.6,1351.1 631.8,1343.5 637.0,1338.1 642.1,1339.0 647.3,1345.2 652.5,1351.6 657.7,1355.1 662.9,1352.9 668.1,1352.0 673.2,1355.0 678.4,1354.4 683.6,1350.5 688.8,1344.5 694.0,1334.8 699.2,1324.4 704.4,1319.3 709.5,1324.1 714.7,1333.3 719.9,1340.7 725.1,1342.0 730.3,1340.8 735.5,1337.5 740.6,1326.8 745.8,1314.9 751.0,1305.3 756.2,1305.1 761.4,1310.6 766.6,1319.2 771.8,1326.1 776.9,1331.7 782.1,1341.4 787.3,1350.0 792.5,1339.1 797.7,1328.1 802.9,1320.3 808.1,1322.6 813.2,1328.7 818.4,1334.9 823.6,1340.6 828.8,1341.9 834.0,1322.8 839.2,1328.3 844.3,1333.8 849.5,1339.4 854.7,1342.3 859.9,1344.9 865.1,1344.6 870.3,1343.2 875.5,1336.3 880.6,1334.6 885.8,1332.2 891.0,1336.5 896.2,1345.5 901.4,1354.3 906.6,1360.3 911.8,1363.5 916.9,1365.4 922.1,1365.3 927.3,1363.8 932.5,1361.9 937.7,1359.7 942.9,1356.8 948.0,1352.0 953.2,1345.8 958.4,1342.0 963.6,1340.4 968.8,1341.0 974.0,1343.8 979.2,1347.4 984.3,1350.9 989.5,1353.0 994.7,1354.8 999.9,1348.6 1005.1,1351.5 1010.3,1354.7 1015.5,1356.3 1020.6,1356.8 1025.8,1357.5 1031.0,1356.7 1036.2,1356.7 1041.4,1354.3 1046.6,1350.8 1051.8,1347.7 1056.9,1341.8 1062.1,1334.8 1067.3,1326.0 1072.5,1318.0 1077.7,1315.4 1082.9,1317.2 1088.0,1324.1 1093.2,1330.0 1098.4,1331.0 1103.6,1330.5 1108.8,1328.1 1114.0,1325.7 1119.2,1325.0 1124.3,1328.6 1129.5,1331.3 1134.7,1336.4 1139.9,1340.7 1145.1,1343.9 1150.3,1346.8 1155.5,1348.6 1160.6,1350.1" fill="none" stroke="#579B66" stroke-width="1.3" stroke-opacity="0.78" stroke-linejoin="round"/>
<polyline points="170.3,1388.8 175.5,1386.3 180.7,1383.1 185.9,1376.5 191.0,1362.8 196.2,1338.3 201.4,1315.1 206.6,1305.6 211.8,1326.1 217.0,1335.0 222.2,1330.3 227.3,1311.3 232.5,1309.8 237.7,1328.6 242.9,1334.9 248.1,1325.9 253.3,1316.4 258.4,1328.5 263.6,1324.8 268.8,1313.0 274.0,1318.9 279.2,1332.3 284.4,1334.4 289.6,1318.7 294.7,1316.3 299.9,1333.8 305.1,1338.6 310.3,1330.5 315.5,1321.7 320.7,1327.0 325.9,1339.6 331.0,1343.0 336.2,1341.8 341.4,1341.4 346.6,1334.3 351.8,1319.5 357.0,1319.5 362.1,1332.2 367.3,1338.5 372.5,1336.3 377.7,1326.6 382.9,1314.1 388.1,1314.4 393.3,1323.0 398.4,1328.2 403.6,1326.1 408.8,1320.7 414.0,1309.3 419.2,1297.4 424.4,1335.7 429.6,1364.5 434.7,1374.3 439.9,1378.0 445.1,1378.8 450.3,1375.0 455.5,1366.7 460.7,1346.4 465.8,1330.8 471.0,1326.4 476.2,1336.2 481.4,1345.4 486.6,1351.9 491.8,1350.4 497.0,1336.7 502.1,1367.7 507.3,1361.0 512.5,1354.2 517.7,1350.7 522.9,1344.5 528.1,1339.2 533.2,1336.0 538.4,1334.3 543.6,1339.3 548.8,1344.8 554.0,1350.3 559.2,1354.6 564.4,1356.8 569.5,1358.9 574.7,1358.0 579.9,1357.8 585.1,1356.9 590.3,1356.8 595.5,1359.8 600.7,1363.5 605.8,1367.2 611.0,1370.1 616.2,1369.9 621.4,1368.7 626.6,1364.1 631.8,1358.8 637.0,1355.7 642.1,1356.3 647.3,1360.2 652.5,1364.8 657.7,1367.1 662.9,1365.3 668.1,1364.8 673.2,1367.0 678.4,1366.5 683.6,1363.4 688.8,1358.6 694.0,1351.7 699.2,1344.8 704.4,1340.9 709.5,1342.2 714.7,1347.6 719.9,1351.8 725.1,1351.0 730.3,1347.5 735.5,1342.7 740.6,1332.6 745.8,1318.7 751.0,1303.9 756.2,1300.9 761.4,1303.4 766.6,1310.2 771.8,1315.3 776.9,1318.2 782.1,1329.7 787.3,1338.4 792.5,1322.5 797.7,1306.6 802.9,1295.8 808.1,1298.7 813.2,1306.6 818.4,1315.3 823.6,1322.5 828.8,1323.7 834.0,1298.3 839.2,1305.9 844.3,1313.9 849.5,1321.1 854.7,1324.7 859.9,1327.1 865.1,1326.1 870.3,1323.9 875.5,1313.9 880.6,1310.2 885.8,1307.4 891.0,1313.9 896.2,1326.8 901.4,1338.4 906.6,1347.0 911.8,1351.3 916.9,1353.5 922.1,1353.5 927.3,1352.0 932.5,1349.9 937.7,1347.0 942.9,1342.7 948.0,1336.9 953.2,1328.3 958.4,1321.1 963.6,1318.9 968.8,1319.6 974.0,1323.9 979.2,1329.0 984.3,1334.0 989.5,1337.6 994.7,1340.5 999.9,1331.1 1005.1,1336.2 1010.3,1340.5 1015.5,1343.4 1020.6,1344.8 1025.8,1345.8 1031.0,1345.6 1036.2,1345.8 1041.4,1343.4 1046.6,1340.0 1051.8,1336.2 1056.9,1331.1 1062.1,1325.4 1067.3,1318.2 1072.5,1311.7 1077.7,1311.0 1082.9,1318.2 1088.0,1326.8 1093.2,1336.9 1098.4,1340.5 1103.6,1342.0 1108.8,1341.2 1114.0,1340.5 1119.2,1340.5 1124.3,1344.1 1129.5,1347.0 1134.7,1350.6 1139.9,1353.5 1145.1,1356.4 1150.3,1358.5 1155.5,1360.0 1160.6,1361.1" fill="none" stroke="#C44E52" stroke-width="1.3" stroke-opacity="0.78" stroke-linejoin="round"/>
<polyline points="170.3,1388.1 175.5,1385.2 180.7,1381.6 185.9,1372.9 191.0,1358.5 196.2,1329.7 201.4,1299.4 206.6,1281.4 211.8,1305.2 217.0,1313.9 222.2,1307.4 227.3,1281.4 232.5,1279.3 237.7,1303.0 242.9,1309.5 248.1,1298.0 253.3,1285.7 258.4,1298.7 263.6,1292.2 268.8,1273.8 274.0,1282.1 279.2,1301.6 284.4,1303.5 289.6,1283.6 294.7,1279.0 299.9,1303.8 305.1,1309.5 310.3,1296.6 315.5,1282.4 320.7,1290.8 325.9,1310.2 331.0,1315.3 336.2,1313.1 341.4,1312.4 346.6,1302.3 351.8,1280.7 357.0,1280.4 362.1,1299.4 367.3,1308.8 372.5,1306.6 377.7,1292.2 382.9,1273.8 388.1,1274.2 393.3,1287.2 398.4,1295.1 403.6,1293.7 408.8,1286.5 414.0,1270.6 419.2,1254.0 424.4,1309.5 429.6,1351.3 434.7,1365.7 439.9,1371.5 445.1,1372.7 450.3,1367.9 455.5,1355.6 460.7,1329.7 465.8,1311.0 471.0,1305.9 476.2,1318.2 481.4,1329.7 486.6,1337.6 491.8,1335.5 497.0,1320.3 502.1,1354.2 507.3,1345.6 512.5,1336.2 517.7,1331.1 522.9,1322.5 528.1,1315.3 533.2,1310.2 538.4,1307.8 543.6,1316.7 548.8,1325.4 554.0,1333.3 559.2,1338.4 564.4,1341.2 569.5,1344.1 574.7,1343.4 579.9,1343.0 585.1,1340.9 590.3,1340.9 595.5,1345.6 600.7,1349.9 605.8,1354.9 611.0,1358.5 616.2,1357.8 621.4,1356.4 626.6,1348.4 631.8,1340.5 637.0,1334.7 642.1,1335.5 647.3,1342.0 652.5,1348.4 657.7,1352.0 662.9,1349.9 668.1,1349.2 673.2,1352.0 678.4,1351.3 683.6,1347.0 688.8,1340.5 694.0,1329.7 699.2,1318.2 704.4,1312.4 709.5,1316.7 714.7,1326.8 719.9,1335.5 725.1,1336.9 730.3,1335.5 735.5,1331.9 740.6,1321.1 745.8,1309.5 751.0,1298.3 756.2,1297.7 761.4,1303.1 766.6,1311.3 771.8,1318.7 776.9,1324.7 782.1,1335.8 787.3,1345.3 792.5,1332.6 797.7,1319.4 802.9,1309.7 808.1,1312.7 813.2,1320.1 818.4,1327.5 823.6,1334.7 828.8,1335.5 834.0,1312.5 839.2,1320.8 844.3,1328.8 849.5,1333.7 854.7,1336.2 859.9,1338.7 865.1,1338.0 870.3,1336.2 875.5,1328.2 880.6,1325.9 885.8,1323.3 891.0,1328.3 896.2,1338.4 901.4,1348.2 906.6,1354.8 911.8,1358.0 916.9,1359.8 922.1,1359.7 927.3,1357.8 932.5,1355.3 937.7,1352.6 942.9,1349.0 948.0,1343.0 953.2,1335.1 958.4,1330.0 963.6,1327.8 968.8,1328.5 974.0,1331.7 979.2,1336.2 984.3,1340.5 989.5,1342.9 994.7,1345.2 999.9,1337.7 1005.1,1341.3 1010.3,1345.4 1015.5,1347.1 1020.6,1347.8 1025.8,1349.0 1031.0,1347.8 1036.2,1347.7 1041.4,1344.9 1046.6,1339.9 1051.8,1336.1 1056.9,1329.9 1062.1,1322.5 1067.3,1315.3 1072.5,1309.5 1077.7,1306.9 1082.9,1308.4 1088.0,1315.3 1093.2,1322.2 1098.4,1323.7 1103.6,1323.2 1108.8,1320.8 1114.0,1318.5 1119.2,1317.9 1124.3,1321.8 1129.5,1324.7 1134.7,1330.4 1139.9,1335.5 1145.1,1339.1 1150.3,1342.7 1155.5,1344.5 1160.6,1346.3" fill="none" stroke="#7A6DA8" stroke-width="1.3" stroke-opacity="0.78" stroke-linejoin="round"/>
<polyline points="170.3,1388.8 175.5,1386.2 180.7,1383.0 185.9,1376.4 191.0,1362.7 196.2,1338.0 201.4,1313.5 206.6,1303.1 211.8,1323.9 217.0,1332.8 222.2,1327.8 227.3,1307.8 232.5,1306.2 237.7,1325.7 242.9,1332.1 248.1,1322.7 253.3,1312.7 258.4,1325.0 263.6,1320.5 268.8,1307.2 274.0,1313.7 279.2,1328.2 284.4,1330.3 289.6,1313.2 294.7,1309.5 299.9,1328.9 305.1,1334.4 310.3,1325.0 315.5,1314.5 320.7,1320.5 325.9,1334.5 331.0,1338.3 336.2,1337.0 341.4,1336.5 346.6,1327.8 351.8,1310.5 357.0,1310.3 362.1,1324.7 367.3,1331.9 372.5,1329.6 377.7,1317.4 382.9,1302.0 388.1,1302.2 393.3,1312.3 398.4,1318.4 403.6,1316.0 408.8,1308.9 414.0,1295.0 419.2,1280.3 424.4,1325.6 429.6,1359.7 434.7,1371.8 439.9,1376.7 445.1,1377.5 450.3,1373.8 455.5,1365.2 460.7,1344.3 465.8,1328.5 471.0,1324.2 476.2,1334.2 481.4,1343.6 486.6,1350.3 491.8,1348.8 497.0,1334.9 502.1,1362.8 507.3,1355.7 512.5,1348.3 517.7,1344.1 522.9,1336.6 528.1,1330.2 533.2,1325.9 538.4,1323.6 543.6,1329.8 548.8,1336.3 554.0,1342.4 559.2,1347.1 564.4,1349.6 569.5,1352.2 574.7,1351.3 579.9,1350.7 585.1,1349.1 590.3,1349.1 595.5,1352.9 600.7,1356.8 605.8,1361.1 611.0,1364.2 616.2,1363.7 621.4,1362.3 626.6,1355.9 631.8,1349.1 637.0,1344.5 642.1,1345.4 647.3,1350.7 652.5,1356.4 657.7,1359.4 662.9,1357.5 668.1,1356.7 673.2,1359.3 678.4,1358.7 683.6,1355.1 688.8,1349.4 694.0,1340.6 699.2,1331.2 704.4,1326.5 709.5,1329.9 714.7,1337.5 719.9,1343.3 725.1,1343.6 730.3,1341.5 735.5,1337.4 740.6,1325.8 745.8,1312.9 751.0,1302.2 756.2,1301.0 761.4,1304.3 766.6,1311.3 771.8,1318.9 776.9,1324.9 782.1,1335.9 787.3,1345.4 792.5,1332.7 797.7,1319.6 802.9,1309.8 808.1,1312.8 813.2,1320.2 818.4,1327.6 823.6,1334.8 828.8,1335.6 834.0,1312.6 839.2,1320.9 844.3,1328.9 849.5,1333.9 854.7,1336.4 859.9,1338.8 865.1,1338.1 870.3,1336.4 875.5,1328.3 880.6,1326.0 885.8,1323.4 891.0,1328.4 896.2,1338.5 901.4,1348.3 906.6,1355.2 911.8,1358.6 916.9,1360.5 922.1,1360.4 927.3,1358.8 932.5,1356.7 937.7,1354.3 942.9,1351.0 948.0,1345.4 953.2,1338.2 958.4,1333.6 963.6,1331.8 968.8,1332.4 974.0,1335.6 979.2,1339.9 984.3,1344.1 989.5,1346.5 994.7,1348.7 999.9,1341.5 1005.1,1345.0 1010.3,1348.9 1015.5,1350.7 1020.6,1351.6 1025.8,1352.6 1031.0,1352.1 1036.2,1352.1 1041.4,1349.7 1046.6,1346.1 1051.8,1343.2 1056.9,1337.8 1062.1,1331.4 1067.3,1323.0 1072.5,1315.5 1077.7,1312.9 1082.9,1316.0 1088.0,1324.1 1093.2,1333.0 1098.4,1335.0 1103.6,1334.7 1108.8,1332.9 1114.0,1331.3 1119.2,1331.0 1124.3,1334.7 1129.5,1337.6 1134.7,1342.0 1139.9,1345.8 1145.1,1348.9 1150.3,1351.4 1155.5,1352.8 1160.6,1354.2" fill="none" stroke="#8A7460" stroke-width="1.3" stroke-opacity="0.78" stroke-linejoin="round"/>
<polyline points="170.3,1388.7 175.5,1386.1 180.7,1382.9 185.9,1376.3 191.0,1362.5 196.2,1337.6 201.4,1311.5 206.6,1299.9 211.8,1321.2 217.0,1330.2 222.2,1324.8 227.3,1303.9 232.5,1302.1 237.7,1322.4 242.9,1329.0 248.1,1319.3 253.3,1309.0 258.4,1321.3 263.6,1316.2 268.8,1301.9 274.0,1309.2 279.2,1324.9 284.4,1327.0 289.6,1309.5 294.7,1304.9 299.9,1325.7 305.1,1331.8 310.3,1321.9 315.5,1310.9 320.7,1317.6 325.9,1332.3 331.0,1336.5 336.2,1335.1 341.4,1334.7 346.6,1325.6 351.8,1307.6 357.0,1307.4 362.1,1322.4 367.3,1330.1 372.5,1327.8 377.7,1315.1 382.9,1299.1 388.1,1299.4 393.3,1309.7 398.4,1316.1 403.6,1313.7 408.8,1306.3 414.0,1291.8 419.2,1276.6 424.4,1323.3 429.6,1358.6 434.7,1371.0 439.9,1376.1 445.1,1376.9 450.3,1373.1 455.5,1364.0 460.7,1342.4 465.8,1326.2 471.0,1321.6 476.2,1331.9 481.4,1341.6 486.6,1348.4 491.8,1347.0 497.0,1332.8 502.1,1361.6 507.3,1354.6 512.5,1347.2 517.7,1342.7 522.9,1335.0 528.1,1328.4 533.2,1324.0 538.4,1321.6 543.6,1328.1 548.8,1334.8 554.0,1341.1 559.2,1345.8 564.4,1348.4 569.5,1351.0 574.7,1350.3 579.9,1349.7 585.1,1347.8 590.3,1347.9 595.5,1351.7 600.7,1355.7 605.8,1360.0 611.0,1363.2 616.2,1362.8 621.4,1361.6 626.6,1354.8 631.8,1347.8 637.0,1342.9 642.1,1343.9 647.3,1349.5 652.5,1355.3 657.7,1358.4 662.9,1356.4 668.1,1355.6 673.2,1358.3 678.4,1357.7 683.6,1354.2 688.8,1348.7 694.0,1339.9 699.2,1330.6 704.4,1326.1 709.5,1330.4 714.7,1338.8 719.9,1345.4 725.1,1346.6 730.3,1345.5 735.5,1342.6 740.6,1333.3 745.8,1323.0 751.0,1315.2 756.2,1314.5 761.4,1319.7 766.6,1327.3 771.8,1333.5 776.9,1338.7 782.1,1347.1 787.3,1354.9 792.5,1344.7 797.7,1334.5 802.9,1327.6 808.1,1329.0 813.2,1335.2 818.4,1341.5 823.6,1347.3 828.8,1348.4 834.0,1329.8 839.2,1335.6 844.3,1341.3 849.5,1346.3 854.7,1349.1 859.9,1350.9 865.1,1350.5 870.3,1349.4 875.5,1343.0 880.6,1341.7 885.8,1339.6 891.0,1343.2 896.2,1351.9 901.4,1360.4 906.6,1365.0 911.8,1367.5 916.9,1368.6 922.1,1368.5 927.3,1367.5 932.5,1366.1 937.7,1364.4 942.9,1361.7 948.0,1357.9 953.2,1352.4 958.4,1348.3 963.6,1347.0 968.8,1347.6 974.0,1350.4 979.2,1353.2 984.3,1356.2 989.5,1358.3 994.7,1359.9 999.9,1354.5 1005.1,1357.1 1010.3,1358.9 1015.5,1361.0 1020.6,1361.5 1025.8,1362.2 1031.0,1361.3 1036.2,1361.3 1041.4,1359.3 1046.6,1355.9 1051.8,1352.1 1056.9,1347.1 1062.1,1341.2 1067.3,1333.5 1072.5,1326.4 1077.7,1324.3 1082.9,1325.1 1088.0,1330.0 1093.2,1334.4 1098.4,1335.3 1103.6,1334.4 1108.8,1332.2 1114.0,1330.2 1119.2,1329.8 1124.3,1333.6 1129.5,1336.6 1134.7,1341.2 1139.9,1345.1 1145.1,1348.2 1150.3,1350.6 1155.5,1352.0 1160.6,1353.4" fill="none" stroke="#DA8BC3" stroke-width="1.3" stroke-opacity="0.78" stroke-linejoin="round"/>
<polyline points="170.3,1388.7 175.5,1386.1 180.7,1382.9 185.9,1376.3 191.0,1362.5 196.2,1337.5 201.4,1310.9 206.6,1298.9 211.8,1320.5 217.0,1329.6 222.2,1324.2 227.3,1303.0 232.5,1301.2 237.7,1321.6 242.9,1328.3 248.1,1318.4 253.3,1307.9 258.4,1320.4 263.6,1315.0 268.8,1300.1 274.0,1307.5 279.2,1323.5 284.4,1325.6 289.6,1307.1 294.7,1302.0 299.9,1323.7 305.1,1330.2 310.3,1319.4 315.5,1307.4 320.7,1314.2 325.9,1329.5 331.0,1333.8 336.2,1332.5 341.4,1332.2 346.6,1322.2 351.8,1302.7 357.0,1302.5 362.1,1318.5 367.3,1326.7 372.5,1324.5 377.7,1310.5 382.9,1292.8 388.1,1293.2 393.3,1304.5 398.4,1311.5 403.6,1308.9 408.8,1300.7 414.0,1284.9 419.2,1268.1 424.4,1318.4 429.6,1356.3 434.7,1369.9 439.9,1375.7 445.1,1376.6 450.3,1372.7 455.5,1363.5 460.7,1341.8 465.8,1325.5 471.0,1320.8 476.2,1331.2 481.4,1341.1 486.6,1347.9 491.8,1346.5 497.0,1332.4 502.1,1358.9 507.3,1352.0 512.5,1344.5 517.7,1338.8 522.9,1330.5 528.1,1323.5 533.2,1318.7 538.4,1316.1 543.6,1323.7 548.8,1331.2 554.0,1338.2 559.2,1342.9 564.4,1345.3 569.5,1347.7 574.7,1346.8 579.9,1346.2 585.1,1344.2 590.3,1344.2 595.5,1348.4 600.7,1352.4 605.8,1357.1 611.0,1360.4 616.2,1359.7 621.4,1358.3 626.6,1350.8 631.8,1343.3 637.0,1337.9 642.1,1338.8 647.3,1345.0 652.5,1351.4 657.7,1354.9 662.9,1352.7 668.1,1351.8 673.2,1354.9 678.4,1354.2 683.6,1350.3 688.8,1344.3 694.0,1334.5 699.2,1324.0 704.4,1318.8 709.5,1323.5 714.7,1332.7 719.9,1339.9 725.1,1341.1 730.3,1339.8 735.5,1336.3 740.6,1325.2 745.8,1313.0 751.0,1302.9 756.2,1302.2 761.4,1307.9 766.6,1317.0 771.8,1324.1 776.9,1330.0 782.1,1340.2 787.3,1349.2 792.5,1337.5 797.7,1325.5 802.9,1316.9 808.1,1319.3 813.2,1325.9 818.4,1332.5 823.6,1338.8 828.8,1339.8 834.0,1319.2 839.2,1325.1 844.3,1330.9 849.5,1336.8 854.7,1339.9 859.9,1342.8 865.1,1342.5 870.3,1341.1 875.5,1333.8 880.6,1331.9 885.8,1329.4 891.0,1333.7 896.2,1343.1 901.4,1352.3 906.6,1358.6 911.8,1361.9 916.9,1363.8 922.1,1363.7 927.3,1362.2 932.5,1360.2 937.7,1357.9 942.9,1354.9 948.0,1349.8 953.2,1343.3 958.4,1339.2 963.6,1337.6 968.8,1338.1 974.0,1341.0 979.2,1344.9 984.3,1348.5 989.5,1350.7 994.7,1352.6 999.9,1346.3 1005.1,1349.4 1010.3,1352.9 1015.5,1354.5 1020.6,1355.0 1025.8,1355.8 1031.0,1354.9 1036.2,1354.9 1041.4,1352.6 1046.6,1349.1 1051.8,1346.2 1056.9,1340.1 1062.1,1333.0 1067.3,1323.9 1072.5,1315.7 1077.7,1313.0 1082.9,1316.1 1088.0,1323.2 1093.2,1329.3 1098.4,1330.4 1103.6,1329.8 1108.8,1327.5 1114.0,1325.2 1119.2,1324.6 1124.3,1328.2 1129.5,1330.9 1134.7,1336.0 1139.9,1340.3 1145.1,1343.5 1150.3,1346.4 1155.5,1348.2 1160.6,1349.7" fill="none" stroke="#868686" stroke-width="1.3" stroke-opacity="0.78" stroke-linejoin="round"/>
<polyline points="170.3,1388.8 175.5,1386.2 180.7,1383.0 185.9,1376.5 191.0,1362.9 196.2,1338.4 201.4,1315.3 206.6,1305.9 211.8,1326.5 217.0,1335.5 222.2,1330.7 227.3,1311.7 232.5,1310.2 237.7,1329.1 242.9,1335.5 248.1,1326.4 253.3,1316.7 258.4,1329.0 263.6,1325.5 268.8,1313.9 274.0,1319.9 279.2,1333.3 284.4,1335.5 289.6,1320.3 294.7,1318.9 299.9,1335.9 305.1,1340.5 310.3,1333.3 315.5,1325.4 320.7,1330.5 325.9,1342.5 331.0,1345.6 336.2,1344.4 341.4,1344.1 346.6,1337.6 351.8,1323.9 357.0,1323.9 362.1,1335.6 367.3,1341.2 372.5,1339.1 377.7,1329.9 382.9,1318.2 388.1,1318.5 393.3,1326.4 398.4,1331.1 403.6,1329.0 408.8,1324.0 414.0,1313.4 419.2,1302.3 424.4,1338.7 429.6,1366.0 434.7,1375.2 439.9,1378.7 445.1,1379.4 450.3,1375.4 455.5,1365.7 460.7,1345.7 465.8,1331.1 471.0,1326.8 476.2,1336.5 481.4,1345.6 486.6,1352.0 491.8,1350.6 497.0,1336.9 502.1,1369.3 507.3,1362.9 512.5,1356.4 517.7,1352.8 522.9,1347.0 528.1,1342.0 533.2,1339.1 538.4,1337.6 543.6,1342.0 548.8,1347.0 554.0,1352.0 559.2,1356.4 564.4,1358.5 569.5,1360.7 574.7,1360.0 579.9,1359.7 585.1,1358.5 590.3,1358.5 595.5,1361.4 600.7,1365.0 605.8,1368.6 611.0,1371.5 616.2,1371.2 621.4,1370.1 626.6,1365.7 631.8,1360.7 637.0,1357.8 642.1,1358.5 647.3,1362.1 652.5,1366.5 657.7,1368.6 662.9,1367.2 668.1,1366.5 673.2,1368.6 678.4,1368.3 683.6,1365.7 688.8,1361.4 694.0,1355.6 699.2,1349.9 704.4,1347.3 709.5,1349.9 714.7,1355.6 719.9,1360.0 725.1,1360.7 730.3,1359.2 735.5,1356.4 740.6,1349.9 745.8,1342.7 751.0,1338.4 756.2,1337.6 761.4,1342.0 766.6,1347.0 771.8,1351.3 776.9,1355.6 782.1,1360.7 787.3,1366.5 792.5,1358.5 797.7,1351.3 802.9,1347.0 808.1,1347.7 813.2,1352.0 818.4,1356.4 823.6,1360.0 828.8,1361.1 834.0,1348.4 839.2,1352.0 844.3,1355.6 849.5,1359.2 854.7,1361.4 859.9,1362.9 865.1,1362.9 870.3,1362.1 875.5,1357.8 880.6,1357.1 885.8,1355.6 891.0,1357.8 896.2,1363.6 901.4,1369.3 906.6,1372.9 911.8,1375.1 916.9,1376.1 922.1,1376.1 927.3,1375.1 932.5,1373.7 937.7,1372.2 942.9,1370.1 948.0,1367.2 953.2,1363.6 958.4,1361.7 963.6,1360.7 968.8,1361.4 974.0,1363.6 979.2,1365.7 984.3,1367.9 989.5,1369.3 994.7,1370.3 999.9,1366.5 1005.1,1367.9 1010.3,1369.3 1015.5,1370.3 1020.6,1371.1 1025.8,1371.5 1031.0,1371.2 1036.2,1371.1 1041.4,1369.8 1046.6,1367.9 1051.8,1365.0 1056.9,1361.4 1062.1,1357.1 1067.3,1351.3 1072.5,1346.3 1077.7,1344.1 1082.9,1344.5 1088.0,1347.0 1093.2,1349.2 1098.4,1349.9 1103.6,1349.2 1108.8,1347.0 1114.0,1344.8 1119.2,1344.1 1124.3,1347.0 1129.5,1349.9 1134.7,1353.5 1139.9,1356.4 1145.1,1359.2 1150.3,1361.1 1155.5,1362.4 1160.6,1363.3" fill="none" stroke="#CCB974" stroke-width="1.3" stroke-opacity="0.78" stroke-linejoin="round"/>
<rect x="1108.2" y="848.3" width="95.5" height="167" rx="2.5" fill="#eaeaf2" fill-opacity="0.8" stroke="#d4d4dc" stroke-width="1"/>
<line x1="1112.9" x2="1140.2" y1="858.3" y2="858.3" stroke="#4F6FA3" stroke-width="1.3" stroke-opacity="0.85"/>
<text x="1150.1" y="862.9" class="lg">Class 1</text>
<line x1="1112.9" x2="1140.2" y1="876.5" y2="876.5" stroke="#DD8452" stroke-width="1.3" stroke-opacity="0.85"/>
<text x="1150.1" y="881.1" class="lg">Class 2</text>
<line x1="1112.9" x2="1140.2" y1="894.6" y2="894.6" stroke="#579B66" stroke-width="1.3" stroke-opacity="0.85"/>
<text x="1150.1" y="899.2" class="lg">Class 3</text>
<line x1="1112.9" x2="1140.2" y1="912.8" y2="912.8" stroke="#C44E52" stroke-width="1.3" stroke-opacity="0.85"/>
<text x="1150.1" y="917.4" class="lg">Class 4</text>
<line x1="1112.9" x2="1140.2" y1="930.9" y2="930.9" stroke="#7A6DA8" stroke-width="1.3" stroke-opacity="0.85"/>
<text x="1150.1" y="935.5" class="lg">Class 5</text>
<line x1="1112.9" x2="1140.2" y1="949.1" y2="949.1" stroke="#8A7460" stroke-width="1.3" stroke-opacity="0.85"/>
<text x="1150.1" y="953.7" class="lg">Class 6</text>
<line x1="1112.9" x2="1140.2" y1="967.3" y2="967.3" stroke="#DA8BC3" stroke-width="1.3" stroke-opacity="0.85"/>
<text x="1150.1" y="971.9" class="lg">Class 7</text>
<line x1="1112.9" x2="1140.2" y1="985.4" y2="985.4" stroke="#868686" stroke-width="1.3" stroke-opacity="0.85"/>
<text x="1150.1" y="990.0" class="lg">Class 8</text>
<line x1="1112.9" x2="1140.2" y1="1003.6" y2="1003.6" stroke="#CCB974" stroke-width="1.3" stroke-opacity="0.85"/>
<text x="1150.1" y="1008.2" class="lg">Class 9</text>
<text x="609.8" y="41.7" class="ti" text-anchor="middle" textLength="490.5" lengthAdjust="spacingAndGlyphs">Atmospheric disturbance variant: ID 7</text>
<text x="610.3" y="791.5" class="ti" text-anchor="middle" textLength="506.3" lengthAdjust="spacingAndGlyphs">Atmospheric disturbance variant: ID 24</text>
<text x="104" y="103.5" class="tk" text-anchor="end">1200</text>
<text x="104" y="195.2" class="tk" text-anchor="end">1000</text>
<text x="104" y="286.2" class="tk" text-anchor="end">800</text>
<text x="104" y="378.0" class="tk" text-anchor="end">600</text>
<text x="104" y="470.2" class="tk" text-anchor="end">400</text>
<text x="104" y="562.0" class="tk" text-anchor="end">200</text>
<text x="82.3" y="647.9" class="tk" text-anchor="middle">0</text>
<text x="171.4" y="682.2" class="tk" text-anchor="middle">0</text>
<text x="306" y="681.7" class="tk" text-anchor="middle">25</text>
<text x="436" y="681.7" class="tk" text-anchor="middle">50</text>
<text x="563.4" y="682.2" class="tk" text-anchor="middle">75</text>
<text x="690.5" y="681.4" class="tk" text-anchor="middle">100</text>
<text x="824.5" y="683.2" class="tk" text-anchor="middle">125</text>
<text x="944.7" y="679.0" class="tk" text-anchor="middle">150</text>
<text x="1085.6" y="681.4" class="tk" text-anchor="middle">175</text>
<text x="1198.5" y="681.4" class="tk" text-anchor="middle">200</text>
<text x="688" y="732.4" class="ax" text-anchor="middle" textLength="64.6" lengthAdjust="spacingAndGlyphs">Band</text>
<text transform="translate(28.5 371.7) rotate(-90)" class="ax" text-anchor="middle" textLength="70.5" lengthAdjust="spacingAndGlyphs">Value</text>
<text x="104" y="852.8" class="tk" text-anchor="end">1200</text>
<text x="104" y="944.5" class="tk" text-anchor="end">1000</text>
<text x="104" y="1035.5" class="tk" text-anchor="end">800</text>
<text x="104" y="1127.3" class="tk" text-anchor="end">600</text>
<text x="104" y="1219.5" class="tk" text-anchor="end">400</text>
<text x="104" y="1311.3" class="tk" text-anchor="end">200</text>
<text x="82.3" y="1397.2" class="tk" text-anchor="middle">0</text>
<text x="171.4" y="1431.5" class="tk" text-anchor="middle">0</text>
<text x="306" y="1431.0" class="tk" text-anchor="middle">25</text>
<text x="436" y="1431.0" class="tk" text-anchor="middle">50</text>
<text x="563.4" y="1431.5" class="tk" text-anchor="middle">75</text>
<text x="690.5" y="1430.7" class="tk" text-anchor="middle">100</text>
<text x="824.5" y="1432.5" class="tk" text-anchor="middle">125</text>
<text x="944.7" y="1428.3" class="tk" text-anchor="middle">150</text>
<text x="1085.6" y="1430.7" class="tk" text-anchor="middle">175</text>
<text x="1198.5" y="1430.7" class="tk" text-anchor="middle">200</text>
<text x="688" y="1481.7" class="ax" text-anchor="middle" textLength="64.6" lengthAdjust="spacingAndGlyphs">Band</text>
<text transform="translate(28.5 1121.0) rotate(-90)" class="ax" text-anchor="middle" textLength="70.5" lengthAdjust="spacingAndGlyphs">Value</text>
</svg>
</body></html>
